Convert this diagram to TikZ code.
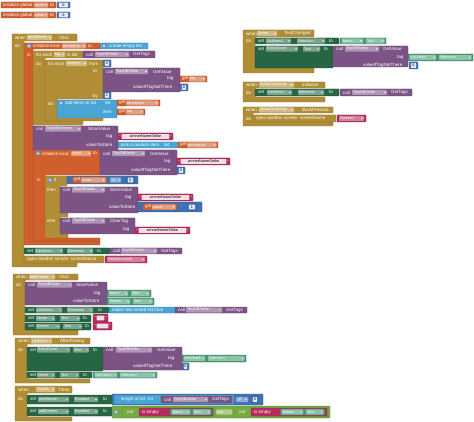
\documentclass[tikz,border=0pt]{standalone}
\usepackage{fontspec}
\setmainfont{Liberation Sans}
\definecolor{cev}{HTML}{B18E35}
\definecolor{cvar}{HTML}{D05F2D}
\definecolor{cpro}{HTML}{7C5385}
\definecolor{cset}{HTML}{266643}
\definecolor{cget}{HTML}{439970}
\definecolor{ctxt}{HTML}{B32D5E}
\definecolor{cmath}{HTML}{3F71B5}
\definecolor{clist}{HTML}{49A6D4}
\definecolor{clog}{HTML}{77AB41}
\tikzset{
  blk/.style={line width=0.3pt, rounded corners=0.7pt},
  lbl/.style={font=\fontsize{4.5}{5}\selectfont, text=white, inner sep=0pt, anchor=west},
  ddt/.style={font=\fontsize{3.8}{4.5}\selectfont, text=white, inner sep=0pt, anchor=west},
  fld/.style={font=\fontsize{3.8}{4.5}\selectfont, text=black, inner sep=0pt},
}
% rectangle block: color x1 y1 x2 y2
\newcommand\mB[5]{\path[blk,fill=#1,draw=#1!78!black] ({#2},{#3}) rectangle ({#4},{#5});}
% C-shaped block: color x1 y1 x2 yh xc yb x3 y2
\newcommand\mC[9]{\path[blk,fill=#1,draw=#1!78!black] ({#2},{#3}) -- ({#4},{#3}) -- ({#4},{#5}) -- ({#6},{#5}) -- ({#6},{#7}) -- ({#8},{#7}) -- ({#8},{#9}) -- ({#2},{#9}) -- cycle;}
% label: x yc text
\newcommand\mL[3]{\node[lbl] at ({#1},{#2}) {#3};}
% dropdown: x1 x2 yc text
\newcommand\mD[4]{\path[fill=white,fill opacity=0.4,rounded corners=0.7pt] ({#1},{#3-2.6}) rectangle ({#2},{#3+2.6});
  \node[ddt] at ({#1+0.8},{#3}) {#4};
  \fill[white] ({#2-2.9},{#3-0.5}) -- ({#2-1.1},{#3-0.5}) -- ({#2-2},{#3+0.7}) -- cycle;}
% editable field: x1 x2 yc text
\newcommand\mF[4]{\path[fill=white,fill opacity=0.85,rounded corners=0.6pt] ({#1},{#3-2.4}) rectangle ({#2},{#3+2.4});
  \node[fld] at ({(#1+#2)/2},{#3}) {#4};}
% number block
\newcommand\mN[5]{\mB{cmath}{#1}{#2}{#3}{#4}\mF{#1+1.8}{#3-1.8}{(#2+#4)/2}{#5}}
% get variable
\newcommand\mG[5]{\mB{cvar}{#1}{#2}{#3}{#4}\mL{#1+1.8}{(#2+#4)/2}{get}\mD{#1+9}{#3-1.5}{(#2+#4)/2}{#5}}
% component getter: x1 y1 x2 y2 xm comp prop
\newcommand\mP[7]{\mB{cget}{#1}{#2}{#3}{#4}\mD{#1+1.5}{#5}{(#2+#4)/2}{#6}\mD{#5+3}{#3-1.5}{(#2+#4)/2}{#7}}
% text block
\newcommand\mQ[5]{\mB{ctxt}{#1}{#2}{#3}{#4}\node[lbl] at ({#1+1},{(#2+#4)/2}) {"};\node[lbl,anchor=east] at ({#3-1},{(#2+#4)/2}) {"};\mF{#1+3.6}{#3-3.6}{(#2+#4)/2}{#5}}
% text dropdown block
\newcommand\mS[5]{\mB{ctxt}{#1}{#2}{#3}{#4}\mD{#1+2}{#3-2}{(#2+#4)/2}{#5}}
% gear icon
\newcommand\mK[2]{\fill[cmath!75!white,rounded corners=0.4pt] ({#1},{#2-2}) rectangle ({#1+4},{#2+2});
  \fill[white] ({#1+2},{#2}) circle (1.1pt);\fill[cmath!75!white] ({#1+2},{#2}) circle (0.45pt);}
\begin{document}
\begin{tikzpicture}[x=1pt,y=-1pt]
\fill[white] (0,0) rectangle (474,422);
\useasboundingbox (0,0) rectangle (474,422);

% ---------- globals
\mB{cvar}{1}{2}{56}{8}\mL{3}{5}{initialize global}\mD{34}{48}{5}{count}\mL{50}{5}{to}\mN{57}{2}{70}{8}{0}
\mB{cvar}{1}{12}{56}{18}\mL{3}{15}{initialize global}\mD{34}{48}{15}{value}\mL{50}{15}{to}\mN{57}{12}{70}{18}{0}

% ---------- when pickWinner.Click
\mC{cev}{12}{34}{77}{41}{24}{263}{77}{267}
\mL{15}{37.5}{when}\mD{27}{52}{37.5}{pickWinner}\mL{59}{37.5}{Click}
\mL{15}{46}{do}
\mC{cvar}{24}{43}{100}{49}{33}{241}{100}{245}
\mK{27}{46}\mL{33}{46}{initialize local}\mD{62}{86}{46}{winnerList}\mL{88}{46}{to}
\mB{clist}{100}{43}{148}{49}\mK{102}{46}\mL{109}{46}{create empty list}
\mL{27}{55}{in}
% for each tag
\mC{cev}{33}{51}{83}{58}{45}{121}{83}{125}
\mL{36}{54.5}{for each}\mD{54}{65}{54.5}{tag}\mL{67}{54.5}{in list}
\mB{cpro}{83}{51}{155}{58}\mL{86}{54.5}{call}\mD{95}{129}{54.5}{TinyDBStrike}\mL{133}{54.5}{GetTags}
\mL{36}{63.5}{do}
% for each number
\mC{cev}{45}{60}{103}{99}{57}{117}{103}{121}
\mL{48}{63.5}{for each}\mD{66}{87}{63.5}{number}\mL{89}{63.5}{from}
\mN{103}{60}{111}{67}{0}
\mL{93}{71.5}{to}
\mB{cpro}{103}{68}{180}{92}\mL{106}{71.5}{call}\mD{115}{148}{71.5}{TinyDBStrike}\mL{153}{71.5}{GetValue}
\mL{167}{79}{tag}\mG{180}{76}{207}{82}{tag}
\mL{133}{87.5}{valueIfTagNotThere}\mN{180}{84}{188}{91}{0}
\mL{93}{96}{by}\mN{103}{92}{111}{99}{1}
\mL{48}{104}{do}
\mB{clist}{57}{100}{117}{118}\mK{59}{103}\mL{65}{103}{add items to list}\mL{105}{103}{list}
\mL{103}{112}{item}
\mG{117}{100}{160}{106}{winnerList}
\mG{117}{109}{145}{115}{tag}
% TinyDBWinners.StoreValue
\mB{cpro}{33}{126}{118}{151}\mL{36}{129}{call}\mD{45}{81}{129}{TinyDBWinners}\mL{88}{129}{StoreValue}
\mL{106}{137}{tag}\mQ{118}{133}{173}{140}{winnerNameStrike}
\mL{86}{145}{valueToStore}
\mB{clist}{118}{142}{178}{148}\mL{121}{145}{pick a random item}\mL{164}{145}{list}
\mG{178}{142}{218}{148}{winnerList}
% initialize local count
\mC{cvar}{33}{150}{100}{175}{45}{238}{100}{241}
\mK{36}{153.5}\mL{42}{153.5}{initialize local}\mD{71}{91}{153.5}{count}\mL{93}{153.5}{to}
\mB{cpro}{100}{150}{177}{175}\mL{103}{153.5}{call}\mD{112}{145}{153.5}{TinyDBStrike}\mL{150}{153.5}{GetValue}
\mL{164}{161.5}{tag}\mQ{177}{158}{230}{165}{winnerNameStrike}
\mL{131}{170.5}{valueIfTagNotThere}\mN{177}{167}{185}{174}{0}
\mL{37}{180}{in}
% if / else
\path[blk,fill=cev,draw=cev!78!black] (45,176) -- (67,176) -- (67,186) -- (60,186) -- (60,213) -- (68,213) -- (68,217) -- (60,217) -- (60,234) -- (68,234) -- (68,238) -- (45,238) -- cycle;
\mK{48}{180}\mL{54}{180}{if}
\mB{cmath}{67}{176}{138}{184}\mG{72}{177}{107}{183}{count}\mD{110}{121}{180}{$\neq$}\mN{126}{177}{135}{183}{0}
\mL{47}{190}{then}
\mB{cpro}{60}{187}{138}{213}\mL{63}{190}{call}\mD{72}{105}{190}{TinyDBStrike}\mL{110}{190}{StoreValue}
\mL{125}{197.5}{tag}\mQ{138}{194}{193}{201}{winnerNameStrike}
\mL{109}{207}{valueToStore}
\mB{cmath}{138}{202}{202}{212}\mG{143}{204}{177}{210}{count}\mL{181}{207}{-}\mN{187}{204}{197}{210}{1}
\mL{47}{221}{else}
\mB{cpro}{60}{218}{135}{234}\mL{63}{221}{call}\mD{72}{105}{221}{TinyDBStrike}\mL{110}{221}{ClearTag}
\mL{123}{230}{tag}\mQ{135}{227}{190}{234}{winnerNameStrike}
% set ListView1.Elements, open another screen
\mB{cset}{24}{248}{110}{254}\mL{27}{251}{set}\mD{35}{63}{251}{ListView1}\mD{67}{93}{251}{Elements}\mL{97}{251}{to}
\mB{cpro}{110}{248}{182}{254}\mL{113}{251}{call}\mD{121}{157}{251}{TinyDBStrike}\mL{161}{251}{GetTags}
\mB{cev}{24}{256}{104}{263}\mL{27}{259.5}{open another screen\ \ screenName}
\mS{105}{256}{147}{263}{StrikeDrumroll}

% ---------- when addEntries.Click
\mC{cev}{13}{274}{78}{280}{25}{330}{78}{335}
\mL{16}{277}{when}\mD{29}{55}{277}{addEntries}\mL{59}{277}{Click}
\mL{16}{285}{do}
\mB{cpro}{25}{282}{107}{305}\mL{28}{285}{call}\mD{37}{72}{285}{TinyDBStrike}\mL{76}{285}{StoreValue}
\mL{94}{293.5}{tag}\mP{107}{290}{151}{297}{128}{Name}{Text}
\mL{73}{301}{valueToStore}\mP{107}{298}{154}{305}{130}{Entries}{Text}
\mB{cset}{25}{307}{109}{313}\mL{28}{310}{set}\mD{36}{62}{310}{ListView1}\mD{67}{93}{310}{Elements}\mL{98}{310}{to}
\mB{clist}{109}{307}{175}{313}\mL{112}{310}{make new sorted list from}
\mB{cpro}{175}{307}{247}{313}\mL{178}{310}{call}\mD{186}{222}{310}{TinyDBStrike}\mL{226}{310}{GetTags}
\mB{cset}{25}{315}{91}{322}\mL{28}{318.5}{set}\mD{36}{55}{318.5}{Name}\mD{60}{80}{318.5}{Text}\mL{83}{318.5}{to}
\mQ{93}{314}{108}{322}{}
\mB{cset}{25}{323}{91}{330}\mL{28}{326.5}{set}\mD{36}{60}{326.5}{Entries}\mD{63}{82}{326.5}{Text}\mL{85}{326.5}{to}
\mQ{93}{322}{112}{330}{}

% ---------- when ListView1.AfterPicking
\mC{cev}{15}{338}{90}{344}{27}{379}{90}{383}
\mL{18}{341}{when}\mD{31}{52}{341}{ListView1}\mL{60}{341}{AfterPicking}
\mL{18}{350}{do}
\mB{cset}{27}{347}{103}{371}\mL{30}{350}{set}\mD{37}{70}{350}{EntryCount}\mD{73}{89}{350}{Text}\mL{93}{350}{to}
\mB{cpro}{103}{347}{182}{370}\mL{106}{350}{call}\mD{116}{152}{350}{TinyDBStrike}\mL{157}{350}{GetValue}
\mL{168}{358.5}{tag}\mP{182}{355}{246}{362}{205}{ListView1}{Selection}
\mL{133}{366.5}{valueIfTagNotThere}\mN{182}{363}{189}{370}{0}
\mB{cset}{27}{372}{92}{378}\mL{30}{375}{set}\mD{37}{55}{375}{Name}\mD{60}{79}{375}{Text}\mL{83}{375}{to}
\mP{93}{372}{157}{378}{117}{ListView1}{Selection}

% ---------- when Clock1.Timer
\mC{cev}{15}{386}{72}{393}{27}{417}{72}{421}
\mL{18}{389.5}{when}\mD{36}{55}{389.5}{Clock1}\mL{58}{389.5}{Timer}
\mL{18}{399}{do}
\mB{cset}{27}{395}{112}{404}\mL{30}{399.5}{set}\mD{38}{69}{399.5}{pickWinner}\mD{74}{98}{399.5}{Enabled}\mL{103}{399.5}{to}
\mB{cmath}{112}{394}{263}{405}
\mB{clist}{114}{395}{234}{404}\mL{121}{399.5}{length of list\ \ list}
\mB{cpro}{161}{396}{232}{403}\mL{164}{399.5}{call}\mD{173}{208}{399.5}{TinyDBStrike}\mL{212}{399.5}{GetTags}
\mD{236}{248}{399.5}{$\neq$}\mN{251}{396}{259}{403}{0}
\mB{cset}{27}{407}{112}{416}\mL{30}{411.5}{set}\mD{38}{69}{411.5}{addEntries}\mD{74}{98}{411.5}{Enabled}\mL{103}{411.5}{to}
\mB{clog}{112}{406}{330}{418}\mK{114}{412}
\mB{clog}{122}{407}{214}{417}\mL{127}{412}{not}
\mB{ctxt}{139}{408}{213}{416}\mL{142}{412}{is empty}
\mP{170}{409}{212}{415}{190}{Name}{Text}
\mD{216}{232}{412}{and}
\mB{clog}{235}{407}{328}{417}\mL{239}{412}{not}
\mB{ctxt}{251}{408}{327}{416}\mL{254}{412}{is empty}
\mP{280}{409}{325}{415}{303}{Entries}{Text}

% ---------- when Name.TextChanged
\mC{cev}{243}{30}{314}{37}{255}{68}{314}{73}
\mL{246}{33.5}{when}\mD{257}{277}{33.5}{Name}\mL{284}{33.5}{TextChanged}
\mL{246}{41}{do}
\mB{cset}{255}{38}{339}{44}\mL{258}{41}{set}\mD{266}{291}{41}{ListView1}\mD{297}{325}{41}{Selection}\mL{329}{41}{to}
\mP{340}{38}{386}{44}{363}{Name}{Text}
\mB{cset}{255}{46}{333}{68}\mL{258}{49}{set}\mD{266}{298}{49}{EntryCount}\mD{303}{320}{49}{Text}\mL{324}{49}{to}
\mB{cpro}{333}{46}{408}{67}\mL{336}{49}{call}\mD{345}{379}{49}{TinyDBStrike}\mL{383}{49}{GetValue}
\mL{397}{57.5}{tag}\mP{408}{54}{473}{61}{436}{ListView1}{Selection}
\mL{363}{65.5}{valueIfTagNotThere}\mN{409}{62}{418}{69}{0}

% ---------- when StrikeChallenge.Initialize
\mC{cev}{243}{82}{325}{88}{255}{97}{325}{102}
\mL{246}{85}{when}\mD{259}{294}{85}{StrikeChallenge}\mL{302}{85}{Initialize}
\mL{246}{93}{do}
\mB{cset}{255}{89}{339}{96}\mL{258}{92.5}{set}\mD{267}{292}{92.5}{ListView1}\mD{298}{324}{92.5}{Elements}\mL{329}{92.5}{to}
\mB{cpro}{340}{89}{412}{96}\mL{343}{92.5}{call}\mD{352}{387}{92.5}{TinyDBStrike}\mL{391}{92.5}{GetTags}

% ---------- when StrikeChallenge.BackPressed
\mC{cev}{243}{107}{333}{113}{253}{122}{333}{126}
\mL{246}{110}{when}\mD{259}{294}{110}{StrikeChallenge}\mL{302}{110}{BackPressed}
\mL{246}{118.5}{do}
\mB{cev}{253}{115}{336}{122}\mL{256}{118.5}{open another screen\ \ screenName}
\mS{337}{115}{366}{122}{Screen1}
\end{tikzpicture}
\end{document}
